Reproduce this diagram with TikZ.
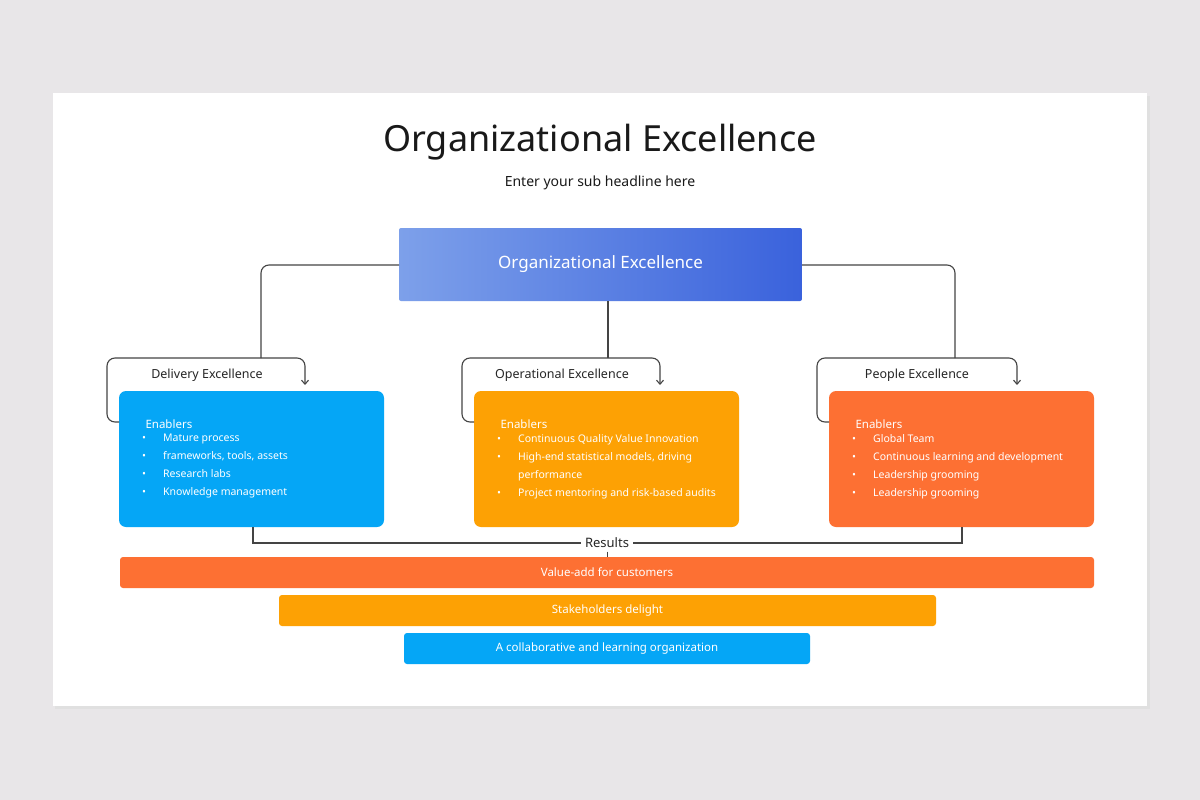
\documentclass[tikz,border=0pt]{standalone}
\usepackage{fontspec}
\setmainfont{Noto Sans}
\usetikzlibrary{arrows.meta,shadows,calc}
\definecolor{bgc}{HTML}{E8E6E8}
\definecolor{cblue}{HTML}{05A6F6}
\definecolor{corange}{HTML}{FDA104}
\definecolor{cred}{HTML}{FD7033}
\definecolor{gl}{HTML}{7DA0EA}
\definecolor{gr}{HTML}{3A62DC}
\definecolor{lnc}{HTML}{444444}
\tikzset{
 conn/.style={draw=lnc,line width=1.1pt,rounded corners=8pt},
 arr/.style={conn,-{Straight Barb[length=4pt,width=7pt]}},
 card/.style={rounded corners=7pt,text=white,anchor=north west,inner sep=0pt},
 bar/.style={rounded corners=3pt,text=white,font=\fontsize{11.5}{13}\selectfont},
 lab/.style={font=\bfseries\fontsize{12.5}{14}\selectfont,text=black!85},
 en/.style={font=\bfseries\fontsize{11.5}{13}\selectfont,text=white,anchor=west},
 it/.style={font=\fontsize{10.5}{18}\selectfont,text=white,anchor=north west,align=left,inner sep=0pt}
}
\newcommand{\bl}[1]{\makebox[21pt][l]{•}#1\\}
\begin{document}
\begin{tikzpicture}[x=1pt,y=-1pt]
\fill[bgc] (0,0) rectangle (1200,800);
\fill[black!12] (55,96) rectangle (1150,709);
\fill[white] (53,93) rectangle (1147,706);
\node[font=\fontsize{36}{40}\selectfont,text=black!90] (title) at (600,142) {Organizational Excellence};
\node[font=\fontsize{14}{16}\selectfont,text=black!90] (sub) at (600,183) {Enter your sub headline here};
\shade[left color=gl,right color=gr,rounded corners=2pt] (399,228) rectangle (802,301);
\node[font=\bfseries\fontsize{17}{20}\selectfont,text=white] (top) at (600.5,264.5) {Organizational Excellence};
\coordinate (tl) at (399,265); \coordinate (tr) at (802,265); \coordinate (tb) at (608,301);
% boxes
\fill[cblue,rounded corners=7pt] (119,391) rectangle (384,527);
\fill[corange,rounded corners=7pt] (474,391) rectangle (739,527);
\fill[cred,rounded corners=7pt] (829,391) rectangle (1094,527);
\coordinate (b1) at (253,527); \coordinate (b3) at (962,527);
\node[en] (e1) at (142,424) {Enablers};
\node[it] (l1) at (142,434) {\bl{Mature process}\bl{frameworks, tools, assets}\bl{Research labs}\bl{Knowledge management}};
\node[en] (e2) at (497,424) {Enablers};
\node[it] (l2) at (497,434) {\bl{Continuous Quality Value Innovation}\bl{High-end statistical models, driving}\makebox[21pt][l]{}performance\\\bl{Project mentoring and risk-based audits}};
\node[en] (e3) at (852,424) {Enablers};
\node[it] (l3) at (852,434) {\bl{Global Team}\bl{Continuous learning and development}\bl{Leadership grooming}\bl{Leadership grooming}};
% labels
\node[lab] (d) at (207,375) {Delivery Excellence};
\node[lab] (o) at (562,375) {Operational Excellence};
\node[lab] (p) at (917,375) {People Excellence};
% connectors
\draw[conn] (tl) -| (261,358);
\draw[conn] (tr) -| (955,358);
\draw[conn] (tb) -- (608,358);
\draw[arr] (119,422) -- (107,422) -- (107,358) -- (305,358) -- (305,385);
\draw[arr] (474,422) -- (462,422) -- (462,358) -- (660,358) -- (660,385);
\draw[arr] (829,422) -- (817,422) -- (817,358) -- (1017,358) -- (1017,385);
% results
\node[font=\bfseries\fontsize{13}{15}\selectfont,text=black!85] (res) at (607,543) {Results};
\draw[draw=lnc,line width=1.1pt] (b1) |- (res.west);
\draw[draw=lnc,line width=1.1pt] (b3) |- (res.east);
\draw[draw=lnc,line width=0.8pt] (res.south) -- (607,557);
\fill[cred,rounded corners=3pt] (120,557) rectangle (1094,588);
\node[bar] (v1) at (607,572.5) {Value-add for customers};
\fill[corange,rounded corners=3pt] (279,595) rectangle (936,626);
\node[bar] (v2) at (607.5,610.5) {Stakeholders delight};
\fill[cblue,rounded corners=3pt] (404,633) rectangle (810,664);
\node[bar] (v3) at (607,648.5) {A collaborative and learning organization};
\end{tikzpicture}
\end{document}
